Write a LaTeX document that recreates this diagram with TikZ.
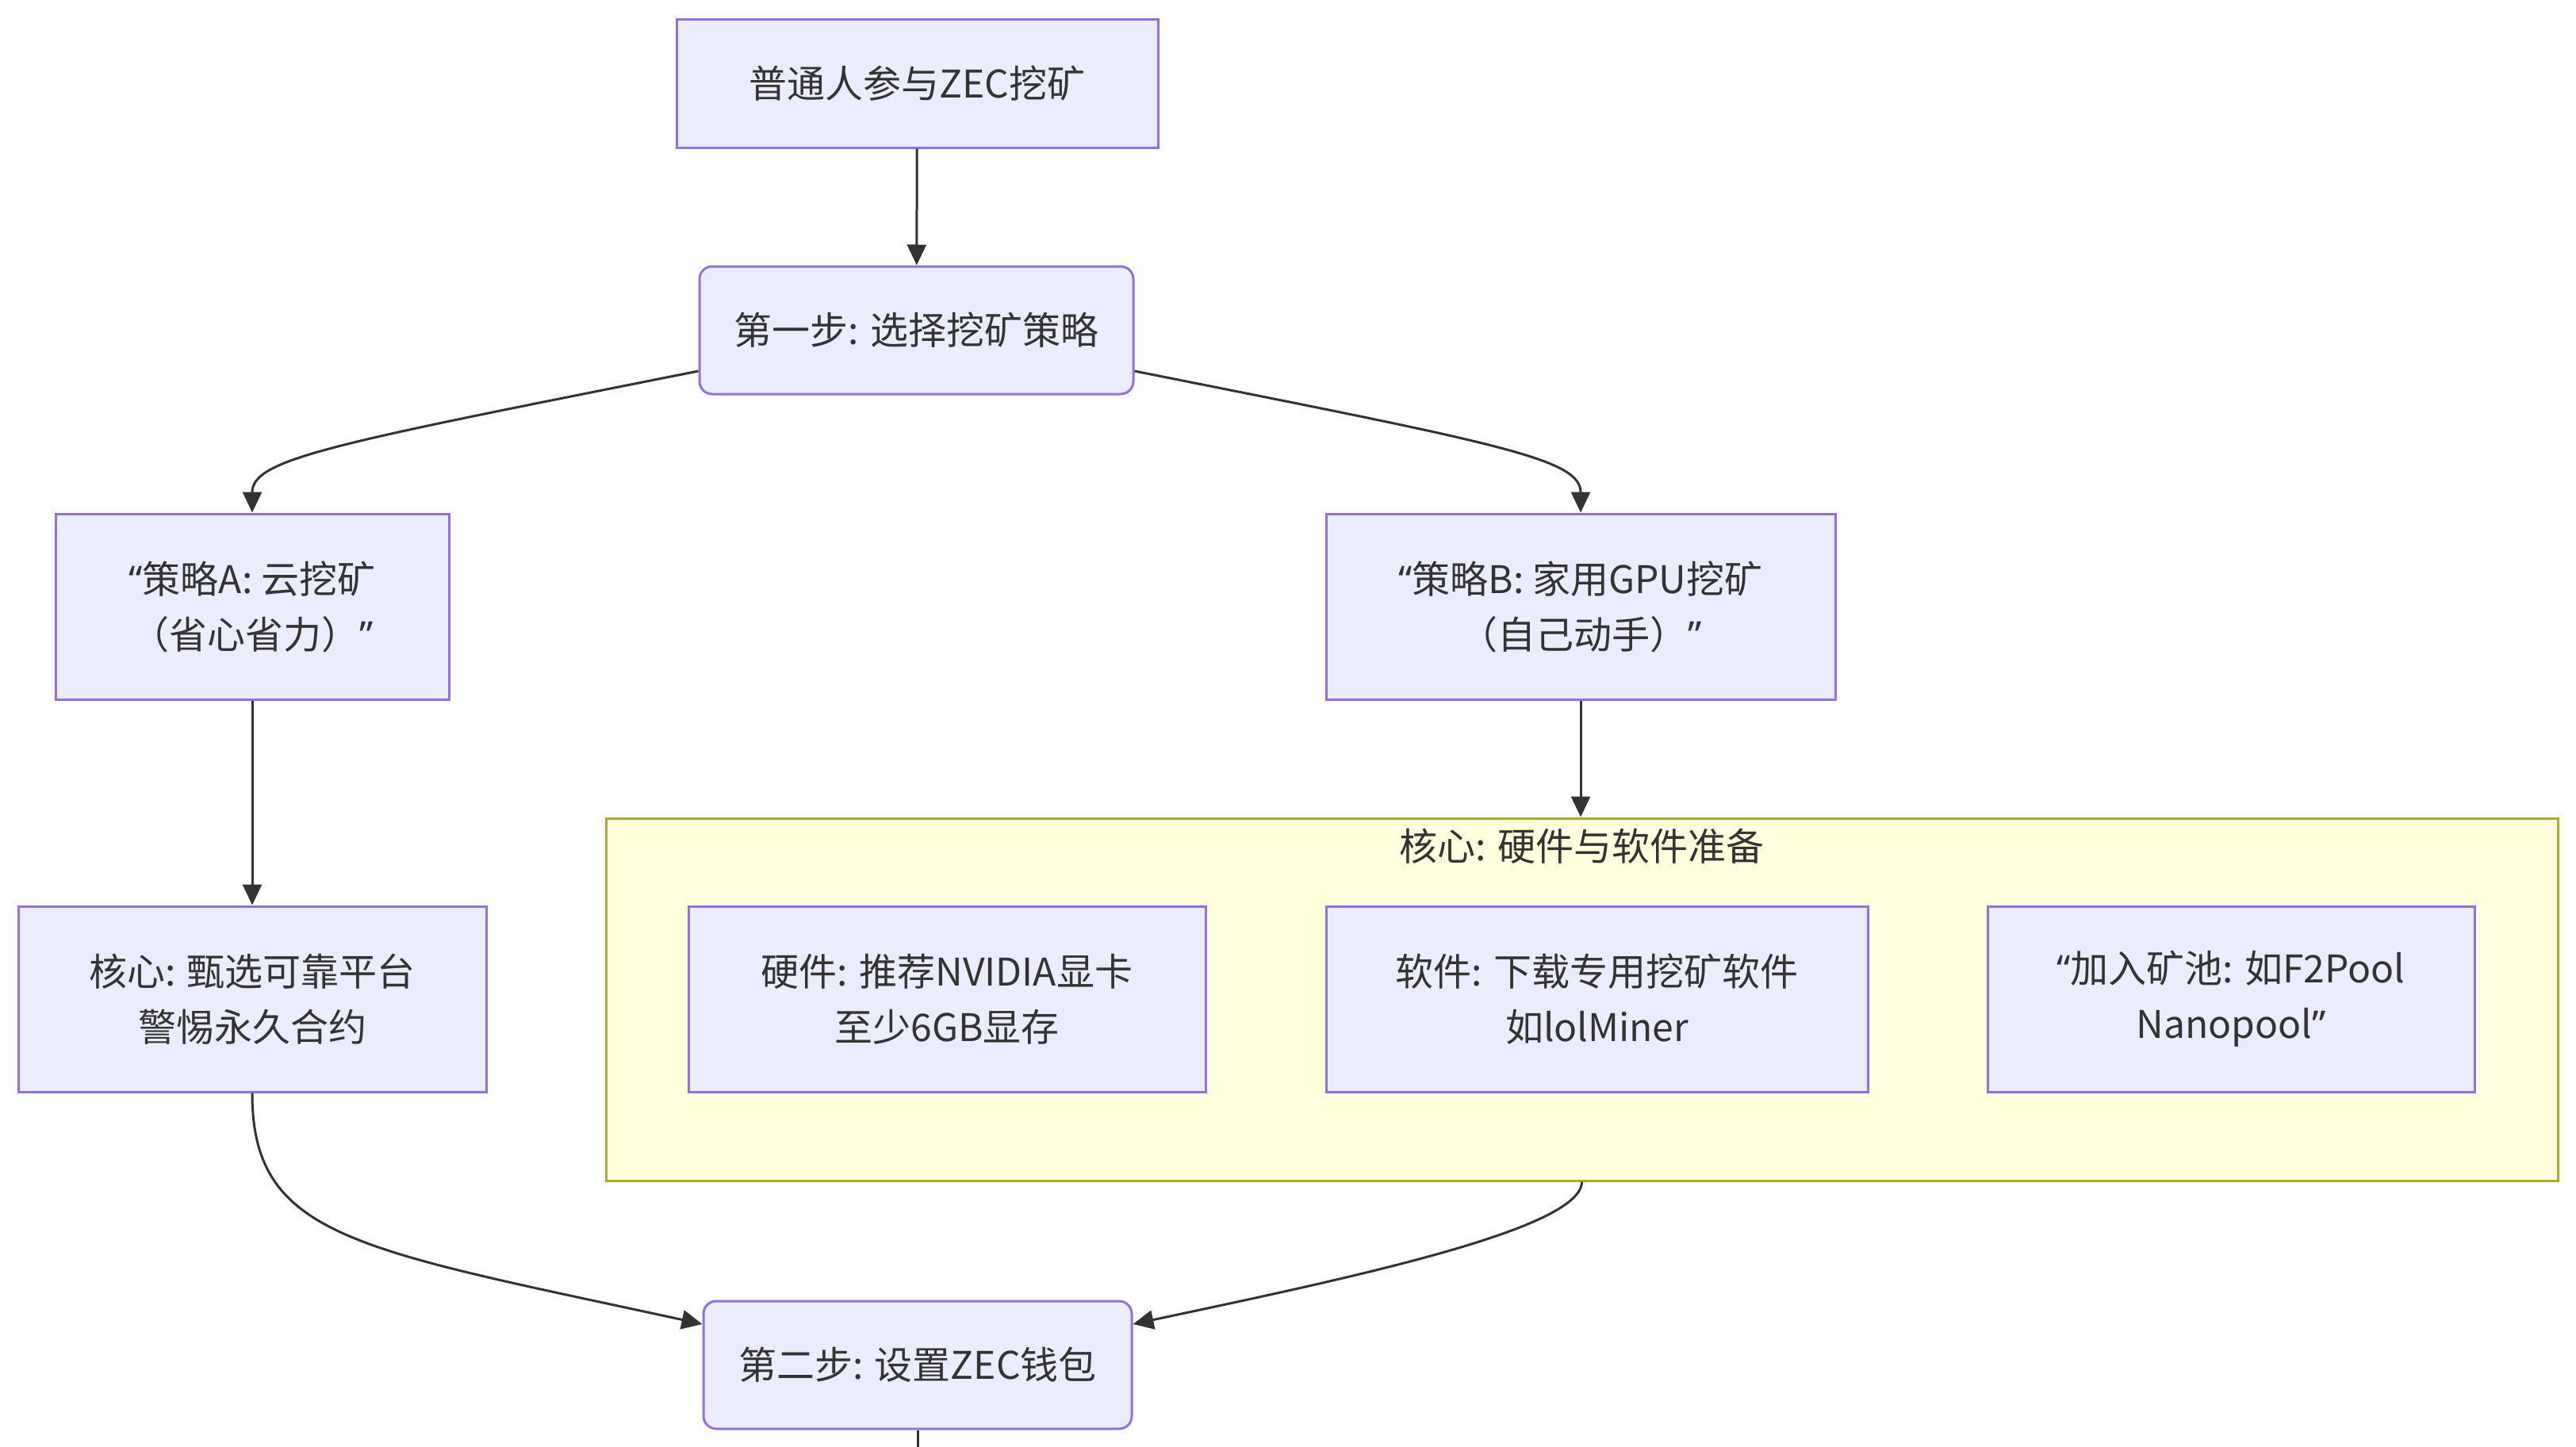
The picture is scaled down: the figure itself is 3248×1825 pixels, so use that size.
\documentclass[tikz,border=0pt]{standalone}
\usepackage{fontspec}
\setmainfont{Noto Sans CJK SC}
\newfontfamily\qf{Noto Sans}
\usetikzlibrary{arrows.meta,calc}
\definecolor{nodefill}{HTML}{ECECFF}
\definecolor{nodeline}{HTML}{9370DB}
\definecolor{clfill}{HTML}{FFFFDE}
\definecolor{clline}{HTML}{AAAA33}
\definecolor{txt}{HTML}{333333}
\tikzset{
  box/.style={draw=nodeline, fill=nodefill, line width=3pt, inner sep=0pt,
    align=center, text=txt, font=\fontsize{48}{70}\selectfont},
  roundbox/.style={box, rounded corners=16pt},
  cluster/.style={draw=clline, fill=clfill, line width=3pt, inner sep=0pt},
  link/.style={draw=txt, line width=3pt, -{Triangle[length=26pt,width=24pt]}},
  plainlink/.style={draw=txt, line width=3pt},
}
\begin{document}
\begin{tikzpicture}[x=1pt,y=-1pt]
\useasboundingbox (0,0) rectangle (3248,1825);
\fill[white] (0,0) rectangle (3248,1825);

% cluster
\node[cluster, minimum width=2461pt, minimum height=457pt] (cl) at (1994.5,1260.5) {};
\node[text=txt, font=\fontsize{48}{70}\selectfont, inner sep=0pt] (clt) at (1994.5,1067) {核心: 硬件与软件准备};

\node[box, minimum width=607pt, minimum height=161pt] (top) at (1156.5,105.5) {普通人参与ZEC挖矿};
\node[roundbox, minimum width=547pt, minimum height=161pt] (s1) at (1155.5,416.5) {第一步: 选择挖矿策略};
\node[box, minimum width=496pt, minimum height=234pt] (A) at (318,765) {{\qf “}策略A: 云挖矿\\（省心省力）{\qf ”}};
\node[box, minimum width=642pt, minimum height=234pt] (B) at (1993,765) {{\qf “}策略B: 家用GPU挖矿\\（自己动手）{\qf ”}};
\node[box, minimum width=590pt, minimum height=234pt] (cA) at (318,1260) {核心: 甄选可靠平台\\警惕永久合约};
\node[box, minimum width=652pt, minimum height=234pt] (hw) at (1194,1260) {硬件: 推荐NVIDIA显卡\\至少6GB显存};
\node[box, minimum width=683pt, minimum height=234pt] (sw) at (2013.5,1260) {软件: 下载专用挖矿软件\\如lolMiner};
\node[box, minimum width=614pt, minimum height=234pt] (pool) at (2813,1260) {{\qf “}加入矿池: 如F2Pool\\Nanopool{\qf ”}};
\node[roundbox, minimum width=540pt, minimum height=161pt] (s2) at (1157,1721.5) {第二步: 设置ZEC钱包};
\coordinate (out) at (1157,1825);

% connectors
\draw[link] (top) -- (s1);
\draw[link] ($(s1.west)+(0,51.5)$) .. controls ($(s1.west)+(-462,143.5)$) and ($(A.north)+(0,-68)$) .. (A.north);
\draw[link] ($(s1.east)+(0,51.5)$) .. controls ($(s1.east)+(462,143.5)$) and ($(B.north)+(0,-68)$) .. (B.north);
\draw[link] (A) -- (cA);
\draw[link] (B) -- (cl.north -| B.south);
\draw[link] (cA.south) .. controls ($(cA.south)+(0,183)$) and ($(s2.west)+(-437,-146.5)$) .. ($(s2.west)+(0,-51.5)$);
\draw[link] (cl.south) .. controls ($(cl.south)+(0,60)$) and ($(s2.east)+(273,-109.5)$) .. ($(s2.east)+(0,-51.5)$);
\draw[plainlink] (s2.south) -- (out);
\end{tikzpicture}
\end{document}
